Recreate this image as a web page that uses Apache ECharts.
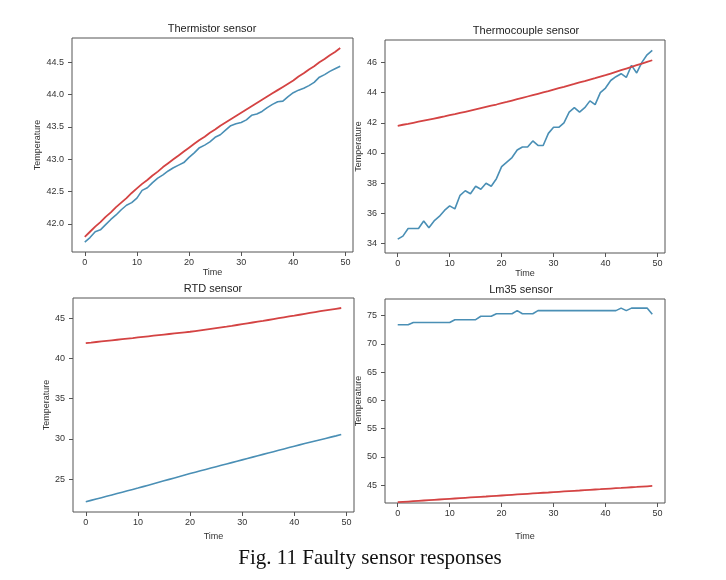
<!DOCTYPE html>
<html>
<head>
<meta charset="utf-8">
<script src="https://cdn.jsdelivr.net/npm/echarts@6/dist/echarts.min.js"></script>
<style>
body { margin: 0; background: #fff; }
#main { width: 726px; height: 580px; }
</style>
</head>
<body>
<div id="main"></div>
<script>
// time steps 0..49
const timeSteps = Array.from({ length: 50 }, (_, i) => i);
const timeTicks = [0, 10, 20, 30, 40, 50];

const thermistorTicks = [42.0, 42.5, 43.0, 43.5, 44.0, 44.5];
const thermocoupleTicks = [34, 36, 38, 40, 42, 44, 46];
const rtdTicks = [25, 30, 35, 40, 45];
const lm35Ticks = [45, 50, 55, 60, 65, 70, 75];

// blue = sensor reading, red = reference
const thermistorBlue = [41.72, 41.79, 41.88, 41.91, 41.99, 42.07, 42.14, 42.22, 42.29, 42.33,
  42.40, 42.52, 42.56, 42.64, 42.71, 42.76, 42.82, 42.87, 42.91, 42.95,
  43.03, 43.10, 43.18, 43.22, 43.27, 43.34, 43.38, 43.45, 43.52, 43.55,
  43.57, 43.61, 43.68, 43.70, 43.74, 43.80, 43.85, 43.89, 43.90, 43.97,
  44.03, 44.07, 44.10, 44.14, 44.19, 44.27, 44.31, 44.36, 44.40, 44.44];
const thermistorRed = [41.80, 41.88, 41.96, 42.03, 42.11, 42.18, 42.26, 42.33, 42.40, 42.48,
  42.55, 42.62, 42.68, 42.75, 42.81, 42.88, 42.94, 43.00, 43.06, 43.12,
  43.18, 43.24, 43.30, 43.35, 43.41, 43.46, 43.52, 43.57, 43.62, 43.67,
  43.72, 43.77, 43.82, 43.87, 43.92, 43.97, 44.02, 44.07, 44.12, 44.17,
  44.22, 44.28, 44.33, 44.39, 44.44, 44.50, 44.55, 44.61, 44.66, 44.72];

const thermocoupleBlue = [34.3, 34.5, 35.0, 35.0, 35.0, 35.5, 35.05, 35.5, 35.8, 36.2,
  36.5, 36.3, 37.2, 37.5, 37.3, 37.8, 37.6, 38.0, 37.8, 38.3,
  39.1, 39.4, 39.7, 40.2, 40.4, 40.4, 40.8, 40.5, 40.5, 41.3,
  41.7, 41.7, 42.0, 42.7, 43.0, 42.7, 43.0, 43.45, 43.2, 44.0,
  44.3, 44.8, 45.05, 45.25, 45.0, 45.8, 45.3, 46.0, 46.5, 46.8];
const thermocoupleRed = [41.80, 41.87, 41.93, 42.00, 42.07, 42.14, 42.21, 42.28, 42.35, 42.42,
  42.50, 42.57, 42.65, 42.73, 42.81, 42.89, 42.97, 43.05, 43.13, 43.21,
  43.30, 43.38, 43.47, 43.56, 43.65, 43.74, 43.83, 43.92, 44.01, 44.10,
  44.20, 44.29, 44.38, 44.48, 44.57, 44.67, 44.76, 44.86, 44.95, 45.05,
  45.15, 45.26, 45.37, 45.48, 45.59, 45.70, 45.81, 45.92, 46.03, 46.14];

const rtdBlue = [22.20, 22.37, 22.54, 22.71, 22.88, 23.05, 23.22, 23.39, 23.56, 23.73,
  23.90, 24.08, 24.26, 24.44, 24.62, 24.80, 24.98, 25.16, 25.34, 25.52,
  25.70, 25.87, 26.04, 26.21, 26.38, 26.55, 26.72, 26.89, 27.06, 27.23,
  27.40, 27.57, 27.74, 27.91, 28.08, 28.25, 28.42, 28.59, 28.76, 28.93,
  29.10, 29.26, 29.42, 29.58, 29.74, 29.90, 30.06, 30.22, 30.38, 30.55];
const rtdRed = [41.90, 41.96, 42.03, 42.10, 42.17, 42.24, 42.31, 42.38, 42.45, 42.52,
  42.60, 42.67, 42.74, 42.81, 42.88, 42.95, 43.02, 43.09, 43.16, 43.23,
  43.30, 43.39, 43.48, 43.57, 43.66, 43.75, 43.84, 43.93, 44.03, 44.14,
  44.25, 44.35, 44.45, 44.55, 44.65, 44.76, 44.87, 44.98, 45.09, 45.20,
  45.30, 45.41, 45.52, 45.63, 45.74, 45.85, 45.95, 46.05, 46.15, 46.25];

const lm35Blue = [73.4, 73.4, 73.4, 73.8, 73.8, 73.8, 73.8, 73.8, 73.8, 73.8,
  73.8, 74.3, 74.3, 74.3, 74.3, 74.3, 74.9, 74.9, 74.9, 75.35,
  75.35, 75.35, 75.35, 75.9, 75.35, 75.35, 75.35, 75.9, 75.9, 75.9,
  75.9, 75.9, 75.9, 75.9, 75.9, 75.9, 75.9, 75.9, 75.9, 75.9,
  75.9, 75.9, 75.9, 76.35, 75.9, 76.35, 76.35, 76.35, 76.35, 75.25];
const lm35Red = [42.00, 42.06, 42.12, 42.18, 42.24, 42.30, 42.36, 42.42, 42.48, 42.54,
  42.60, 42.66, 42.72, 42.78, 42.84, 42.90, 42.96, 43.01, 43.07, 43.13,
  43.19, 43.25, 43.31, 43.37, 43.43, 43.49, 43.55, 43.61, 43.67, 43.72,
  43.78, 43.84, 43.90, 43.96, 44.02, 44.07, 44.13, 44.19, 44.25, 44.30,
  44.36, 44.42, 44.48, 44.53, 44.59, 44.65, 44.70, 44.76, 44.82, 44.88];

const blue = "#4a8fb5";
const red = "#d44343";
const font = "Liberation Sans";

const pairs = (vals) => vals.map((v, i) => [timeSteps[i], v]);

// one entry per subplot
const panels = [
  { title: "Thermistor sensor", tx: 212, ty: 23, grid: [72, 38, 281, 214], y: [41.567, 44.876], ticks: thermistorTicks, dec: 1, xGap: 13, yGap: 30, blue: thermistorBlue, red: thermistorRed },
  { title: "Thermocouple sensor", tx: 526, ty: 25, grid: [385, 40, 280, 213], y: [33.38, 47.48], ticks: thermocoupleTicks, dec: 0, xGap: 10, yGap: 20, blue: thermocoupleBlue, red: thermocoupleRed },
  { title: "RTD sensor", tx: 213, ty: 283, grid: [73, 298, 281, 214], y: [20.93, 47.49], ticks: rtdTicks, dec: 0, xGap: 20, yGap: 20, blue: rtdBlue, red: rtdRed },
  { title: "Lm35 sensor", tx: 521, ty: 284, grid: [385, 299, 280, 204], y: [41.86, 77.96], ticks: lm35Ticks, dec: 0, xGap: 29, yGap: 21, blue: lm35Blue, red: lm35Red },
];

const labelStyle = { fontFamily: font, fontSize: 9, color: "#333" };
const tickStyle = { length: 4, lineStyle: { color: "#555" } };

const myChart = echarts.init(document.getElementById("main"));
let option = {
  animation: false,
  backgroundColor: "#fff",
  title: panels.map((p) => ({
    text: p.title,
    left: p.tx,
    top: p.ty,
    textAlign: "center",
    padding: 0,
    textStyle: { fontFamily: font, fontSize: 11, fontWeight: "normal", color: "#222" },
  })).concat([{
    text: "Fig. 11 Faulty sensor responses",
    left: 370,
    top: 548,
    textAlign: "center",
    padding: 0,
    textStyle: { fontFamily: "Liberation Serif", fontSize: 21, fontWeight: "normal", color: "#111" },
  }]),
  grid: panels.map((p) => ({
    left: p.grid[0],
    top: p.grid[1],
    width: p.grid[2],
    height: p.grid[3],
    show: true,
    borderColor: "#555",
    borderWidth: 1,
  })),
  xAxis: panels.map((p, i) => ({
    gridIndex: i,
    type: "value",
    min: -2.45,
    max: 51.45,
    name: "Time",
    nameLocation: "middle",
    nameGap: p.xGap,
    nameTextStyle: { fontFamily: font, fontSize: 9, color: "#333" },
    axisLine: { show: false, onZero: false },
    splitLine: { show: false },
    axisTick: Object.assign({ customValues: timeTicks }, tickStyle),
    axisLabel: Object.assign({ customValues: timeTicks, margin: 6 }, labelStyle),
  })),
  yAxis: panels.map((p, i) => ({
    gridIndex: i,
    type: "value",
    min: p.y[0],
    max: p.y[1],
    name: "Temperature",
    nameLocation: "middle",
    nameGap: p.yGap,
    nameTextStyle: { fontFamily: font, fontSize: 9, color: "#333" },
    axisLine: { show: false, onZero: false },
    splitLine: { show: false },
    axisTick: Object.assign({ customValues: p.ticks }, tickStyle),
    axisLabel: Object.assign({
      customValues: p.ticks,
      margin: 8,
      formatter: (v) => v.toFixed(p.dec),
    }, labelStyle),
  })),
  series: [],
};

panels.forEach((p, i) => {
  option.series.push({
    type: "line",
    xAxisIndex: i,
    yAxisIndex: i,
    data: pairs(p.blue),
    showSymbol: false,
    lineStyle: { color: blue, width: 1.6 },
    itemStyle: { color: blue },
  });
  option.series.push({
    type: "line",
    xAxisIndex: i,
    yAxisIndex: i,
    data: pairs(p.red),
    showSymbol: false,
    lineStyle: { color: red, width: 1.8 },
    itemStyle: { color: red },
  });
});

myChart.setOption(option);
</script>
</body>
</html>
